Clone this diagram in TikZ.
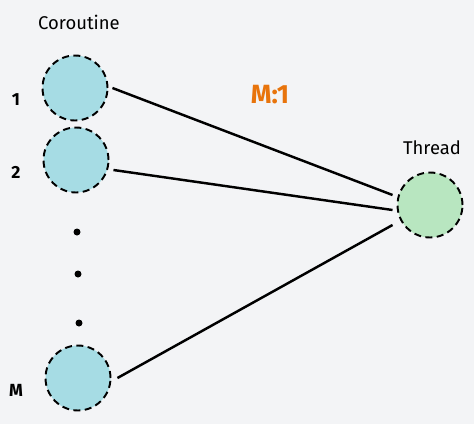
\documentclass[tikz,border=0pt]{standalone}
\usepackage{fontspec}
\setmainfont{Fira Sans}
\usepackage{tikz}
\usetikzlibrary{patterns,positioning}
\definecolor{bgcol}{HTML}{F3F4F6}
\definecolor{corofill}{HTML}{A6DCE4}
\definecolor{threadfill}{HTML}{B8E6C0}
\definecolor{ratiocol}{HTML}{E8740C}

\begin{document}
\begin{tikzpicture}[x=0.02cm, y=-0.02cm,
  coro/.style={draw, circle, dash pattern=on 4pt off 2.5pt, line width=1.1pt, minimum size=1.3cm, fill=corofill, inner sep=0pt},
  thr/.style={coro, fill=threadfill},
  lbl/.style={font=\fontsize{10.5}{12}\selectfont},
  link/.style={line width=1.4pt}]
  % Fond
  \fill[bgcol] (0,0) rectangle (474,424);
  \useasboundingbox (0,0) rectangle (474,424);

  % Coroutines
  \node[lbl] (title) at (79,22) {Coroutine};
  \foreach \name/\y/\x/\txt in {c1/88/75/1, c2/160/76/2, cM/378/78/M} {
    \node[coro] (\name) at (\x,\y) {};
    \node[lbl, font=\fontsize{10}{12}\selectfont\bfseries] (l\name) at (16,\y+12) {\txt};
  }

  % Points de suspension
  \foreach \y [count=\i] in {232,274,323} {
    \fill (76+\i,\y) circle (3.5);
  }

  % Thread
  \node[lbl] (thtitle) at (432,148) {Thread};
  \node[thr] (th) at (430,205) {};

  % Rapport
  \node[font=\fontsize{15}{17}\selectfont\bfseries, text=ratiocol] (ratio) at (270,95) {M:1};

  % Liens
  \draw[link] ([shift={(4,0)}]c1.east) -- ([shift={(-4,-10)}]th.west);
  \draw[link] ([shift={(4,10)}]c2.east) -- ([shift={(-4,5)}]th.west);
  \draw[link] ([shift={(6,0)}]cM.east) -- ([shift={(-4,20)}]th.west);
\end{tikzpicture}
\end{document}
